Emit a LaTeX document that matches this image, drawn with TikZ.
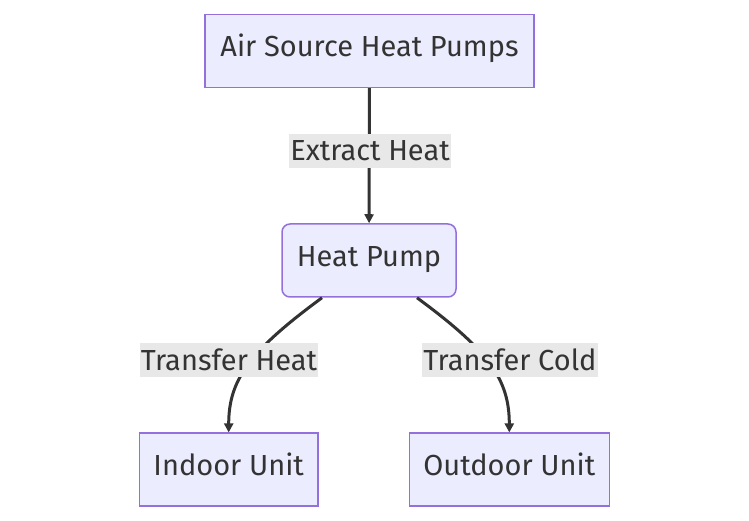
\documentclass[tikz,border=0pt]{standalone}
\usepackage{fontspec}
\setmainfont{Fira Sans}
\usetikzlibrary{arrows.meta,positioning}
\definecolor{lilac}{RGB}{236,236,255}
\definecolor{violet}{RGB}{147,112,219}
\definecolor{ink}{RGB}{51,51,51}
\definecolor{labelgrey}{RGB}{232,232,232}
\tikzset{
  >={Triangle[length=9pt,width=9pt]},
  unit/.style={draw=violet,fill=lilac,line width=1.5pt,text=ink,
    minimum height=73pt,font=\fontsize{29}{33}\selectfont,inner xsep=14pt,
    text height=21pt,text depth=9pt},
  pump/.style={unit,rounded corners=8pt},
  tag/.style={fill=labelgrey,text=ink,font=\fontsize{29}{33}\selectfont,
    inner sep=1pt,minimum height=34pt,text height=21pt,text depth=1pt},
  flow/.style={->,line width=3pt,draw=ink},
}
\begin{document}
\begin{tikzpicture}[x=1pt,y=1pt]
  \useasboundingbox (0,0) rectangle (749,521);
  \node[unit,minimum width=329pt] (ashp) at (369.5,470) {Air Source Heat Pumps};
  \node[pump,minimum width=174pt] (hp) at (369,260.5) {Heat Pump};
  \node[unit,minimum width=177pt] (indoor) at (228.7,51.3) {Indoor Unit};
  \node[unit,minimum width=200pt] (outdoor) at (509.3,51.3) {Outdoor Unit};
  % edges
  \draw[flow] (ashp) -- (hp);
  \draw[flow] ([xshift=-47pt]hp.south) .. controls +(-72,-53) and +(0,53) .. (indoor.north);
  \draw[flow] ([xshift=48pt]hp.south) .. controls +(72,-53) and +(0,53) .. (outdoor.north);
  % labels
  \node[tag] (lextract) at (370,370) {Extract Heat};
  \node[tag] (lheat) at (229,160.5) {Transfer Heat};
  \node[tag] (lcold) at (510,160.5) {Transfer Cold};
\end{tikzpicture}
\end{document}
